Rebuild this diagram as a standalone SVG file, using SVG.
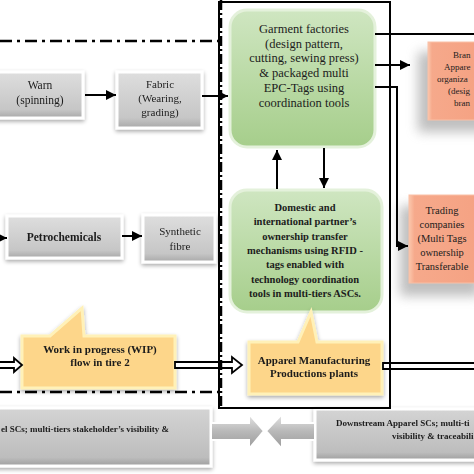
<svg xmlns="http://www.w3.org/2000/svg" width="474" height="474" viewBox="0 0 474 474">
<defs>
  <linearGradient id="gGrey" x1="0" y1="0" x2="0" y2="1">
    <stop offset="0" stop-color="#dedede"/><stop offset="0.82" stop-color="#c6c6c6"/><stop offset="1" stop-color="#a8a8a8"/>
  </linearGradient>
  <linearGradient id="gBar" x1="0" y1="0" x2="0" y2="1">
    <stop offset="0" stop-color="#d4d4d4"/><stop offset="0.85" stop-color="#bdbdbd"/><stop offset="1" stop-color="#9e9e9e"/>
  </linearGradient>
  <linearGradient id="gArrow" x1="0" y1="0" x2="0" y2="1">
    <stop offset="0" stop-color="#e6e6e6"/><stop offset="0.5" stop-color="#b8b8b8"/><stop offset="1" stop-color="#9a9a9a"/>
  </linearGradient>
  <linearGradient id="gGreen" x1="0" y1="0" x2="0" y2="1">
    <stop offset="0" stop-color="#cfe6c1"/><stop offset="1" stop-color="#a6ce8b"/>
  </linearGradient>
  <linearGradient id="gPink" x1="0" y1="0" x2="1" y2="0">
    <stop offset="0" stop-color="#fbc7ac"/><stop offset="0.08" stop-color="#f6a98b"/><stop offset="1" stop-color="#f5a283"/>
  </linearGradient>
  <filter id="shadow" x="-20%" y="-30%" width="140%" height="170%">
    <feGaussianBlur in="SourceAlpha" stdDeviation="2"/>
    <feOffset dx="0" dy="2"/>
    <feComponentTransfer><feFuncA type="linear" slope="0.35"/></feComponentTransfer>
    <feMerge><feMergeNode/><feMergeNode in="SourceGraphic"/></feMerge>
  </filter>
  <filter id="blur" x="-50%" y="-50%" width="200%" height="200%"><feGaussianBlur stdDeviation="6"/></filter>
  <marker id="arr" viewBox="0 0 10 10" refX="10" refY="5" markerWidth="5" markerHeight="5" orient="auto">
    <path d="M0,0 L10,5 L0,10 Z" fill="#000"/>
  </marker>
  <style>
    .grey { fill: url(#gGrey); stroke: #ffffff; stroke-width: 3; }
    .green { fill: url(#gGreen); stroke: #e4f1db; stroke-width: 3; }
    .pink { fill: url(#gPink); stroke: #f9bfa5; stroke-width: 1; }
    .yellow { fill: #fdd68a; stroke: #fff1b8; stroke-width: 3; }
    .bar { fill: url(#gBar); stroke: #ffffff; stroke-width: 3; }
    .t { font-family: "Liberation Serif", "Times New Roman", serif; fill: #1c1c1c; text-anchor: middle; }
    .s { text-anchor: start; }
    .b { font-weight: bold; }
    .ln { fill: none; stroke: #000; stroke-width: 2; }
    .hol { fill: #fff; stroke: #000; stroke-width: 1.8; }
    .dd { fill: none; stroke: #000; stroke-width: 2.5; stroke-dasharray: 12 5 3 5; }
  </style>
</defs>
<rect x="0" y="0" width="474" height="474" fill="#fff"/>

<!-- dash-dot boundary lines -->
<line class="dd" x1="0" y1="41" x2="218" y2="41"/>
<line class="dd" x1="0" y1="392" x2="218" y2="392"/>

<!-- pink box shadows -->
<rect x="418" y="52" width="70" height="80" fill="#8a8a8a" opacity="0.55" filter="url(#blur)"/>
<rect x="400" y="206" width="80" height="90" fill="#8a8a8a" opacity="0.55" filter="url(#blur)"/>

<g id="warn" filter="url(#shadow)">
  <rect class="grey" x="-4" y="72" width="87" height="46"/>
  <text class="t" x="40" y="89" font-size="11.5">Warn</text>
  <text class="t" x="40" y="104" font-size="11.5">(spinning)</text>
</g>
<g id="fabric" filter="url(#shadow)">
  <rect class="grey" x="117" y="72" width="85" height="56"/>
  <text class="t" x="160" y="88" font-size="11">Fabric</text>
  <text class="t" x="160" y="102" font-size="11">(Wearing,</text>
  <text class="t" x="160" y="116" font-size="11">grading)</text>
</g>
<g id="petrochemicals" filter="url(#shadow)">
  <rect class="grey" x="7" y="216" width="115" height="42"/>
  <text class="t b" x="64" y="241" font-size="11.5">Petrochemicals</text>
</g>
<g id="synthetic" filter="url(#shadow)">
  <rect class="grey" x="143" y="215" width="72" height="47"/>
  <text class="t" x="180" y="235" font-size="11">Synthetic</text>
  <text class="t" x="180" y="250" font-size="11">fibre</text>
</g>

<g id="garment">
  <rect class="green" x="230" y="10" width="145" height="137" rx="17"/>
  <text class="t" x="304" y="33" font-size="12.5">Garment factories</text>
  <text class="t" x="304" y="48" font-size="12.5">(design pattern,</text>
  <text class="t" x="304" y="62" font-size="12.5">cutting, sewing press)</text>
  <text class="t" x="304" y="77" font-size="12.5">&amp; packaged multi</text>
  <text class="t" x="304" y="92" font-size="12.5">EPC-Tags using</text>
  <text class="t" x="304" y="107" font-size="12.5">coordination tools</text>
</g>
<g id="domestic">
  <rect class="green" x="230" y="190" width="152" height="122" rx="17"/>
  <text class="t b" x="305" y="211" font-size="10.5">Domestic and</text>
  <text class="t b" x="305" y="225" font-size="10.5">international partner’s</text>
  <text class="t b" x="305" y="240" font-size="10.5">ownership transfer</text>
  <text class="t b" x="305" y="254" font-size="10.5">mechanisms using RFID -</text>
  <text class="t b" x="305" y="268" font-size="10.5">tags enabled with</text>
  <text class="t b" x="305" y="283" font-size="10.5">technology coordination</text>
  <text class="t b" x="305" y="297" font-size="10.5">tools in multi-tiers ASCs.</text>
</g>

<g id="brand">
  <rect class="pink" x="428" y="42" width="50" height="78"/>
  <text class="t s" x="453" y="58" font-size="9">Bran</text>
  <text class="t s" x="444" y="70" font-size="9">Appare</text>
  <text class="t s" x="437" y="82" font-size="9">organiza</text>
  <text class="t s" x="448" y="94" font-size="9">(desig</text>
  <text class="t s" x="454" y="106" font-size="9">bran</text>
</g>
<g id="trading">
  <rect class="pink" x="409" y="195" width="70" height="88"/>
  <text class="t" x="442" y="214" font-size="10.5">Trading</text>
  <text class="t" x="442" y="228" font-size="10.5">companies</text>
  <text class="t" x="442" y="242" font-size="10.5">(Multi Tags</text>
  <text class="t" x="442" y="256" font-size="10.5">ownership</text>
  <text class="t" x="442" y="270" font-size="10.5">Transferable</text>
</g>

<g id="wip" filter="url(#shadow)">
  <path class="yellow" d="M22,336 L50,336 L82,308 L84,336 L175,336 L175,388 L22,388 Z"/>
  <text class="t b" x="100" y="353" font-size="11">Work in progress (WIP)</text>
  <text class="t b" x="100" y="366" font-size="11">flow in tire 2</text>
</g>
<g id="apparel" filter="url(#shadow)">
  <path class="yellow" d="M249,342 L298,342 L311,312 L317,342 L382,342 L382,394 L249,394 Z"/>
  <text class="t b" x="314" y="364" font-size="11">Apparel Manufacturing</text>
  <text class="t b" x="314" y="377" font-size="11">Productions plants</text>
</g>

<g id="upstream" filter="url(#shadow)">
  <rect class="bar" x="-5" y="408" width="216" height="58"/>
  <text class="t b s" x="1" y="432" font-size="9">el SCs; multi-tiers stakeholder’s visibility &amp;</text>
</g>
<g id="downstream" filter="url(#shadow)">
  <rect class="bar" x="315" y="409" width="165" height="51"/>
  <text class="t b s" x="336" y="426" font-size="9">Downstream Apparel SCs; multi-ti</text>
  <text class="t b s" x="392" y="439" font-size="9">visibility &amp; traceabili</text>
</g>

<g id="connectors">
  <line class="ln" x1="85" y1="95" x2="116" y2="95" marker-end="url(#arr)"/>
  <line class="ln" x1="202" y1="96" x2="228" y2="96" marker-end="url(#arr)"/>
  <line class="ln" x1="375" y1="65" x2="410" y2="65" marker-end="url(#arr)"/>
  <line class="ln" x1="375" y1="34" x2="474" y2="34"/>
  <polyline class="ln" points="375,87 397,87 397,246 408,246" marker-end="url(#arr)"/>
  <line class="ln" x1="277" y1="189" x2="277" y2="150" marker-end="url(#arr)"/>
  <line class="ln" x1="324" y1="148" x2="324" y2="188" marker-end="url(#arr)"/>
  <line class="ln" x1="0" y1="238" x2="7" y2="238" marker-end="url(#arr)"/>
  <line class="ln" x1="122" y1="236" x2="142" y2="236" marker-end="url(#arr)"/>
  <!-- hollow arrows -->
  <path class="hol" d="M-2,362 L14,362 L14,358 L22,365 L14,372 L14,368 L-2,368 Z"/>
  <path class="hol" d="M175,362 L232,362 L232,357 L242,365 L232,373 L232,368 L175,368 Z"/>
  <path class="hol" d="M383,363 L476,363 L476,369 L383,369 Z"/>
  <!-- bottom facing arrows -->
  <path d="M211,423 L249,423 L249,414 L264,431 L249,449 L249,440 L211,440 Z" fill="url(#gArrow)" stroke="#fff" stroke-width="2"/>
  <path d="M315,423 L282,423 L282,414 L266,431 L282,449 L282,440 L315,440 Z" fill="url(#gArrow)" stroke="#fff" stroke-width="2"/>
</g>

<!-- frame -->
<g id="frame">
  <rect x="219" y="2" width="171" height="406" fill="none" stroke="#000" stroke-width="2"/>
  <line x1="221" y1="0" x2="221" y2="408" stroke="#000" stroke-width="2.5" stroke-dasharray="10 3 2 3"/>
</g>
</svg>
